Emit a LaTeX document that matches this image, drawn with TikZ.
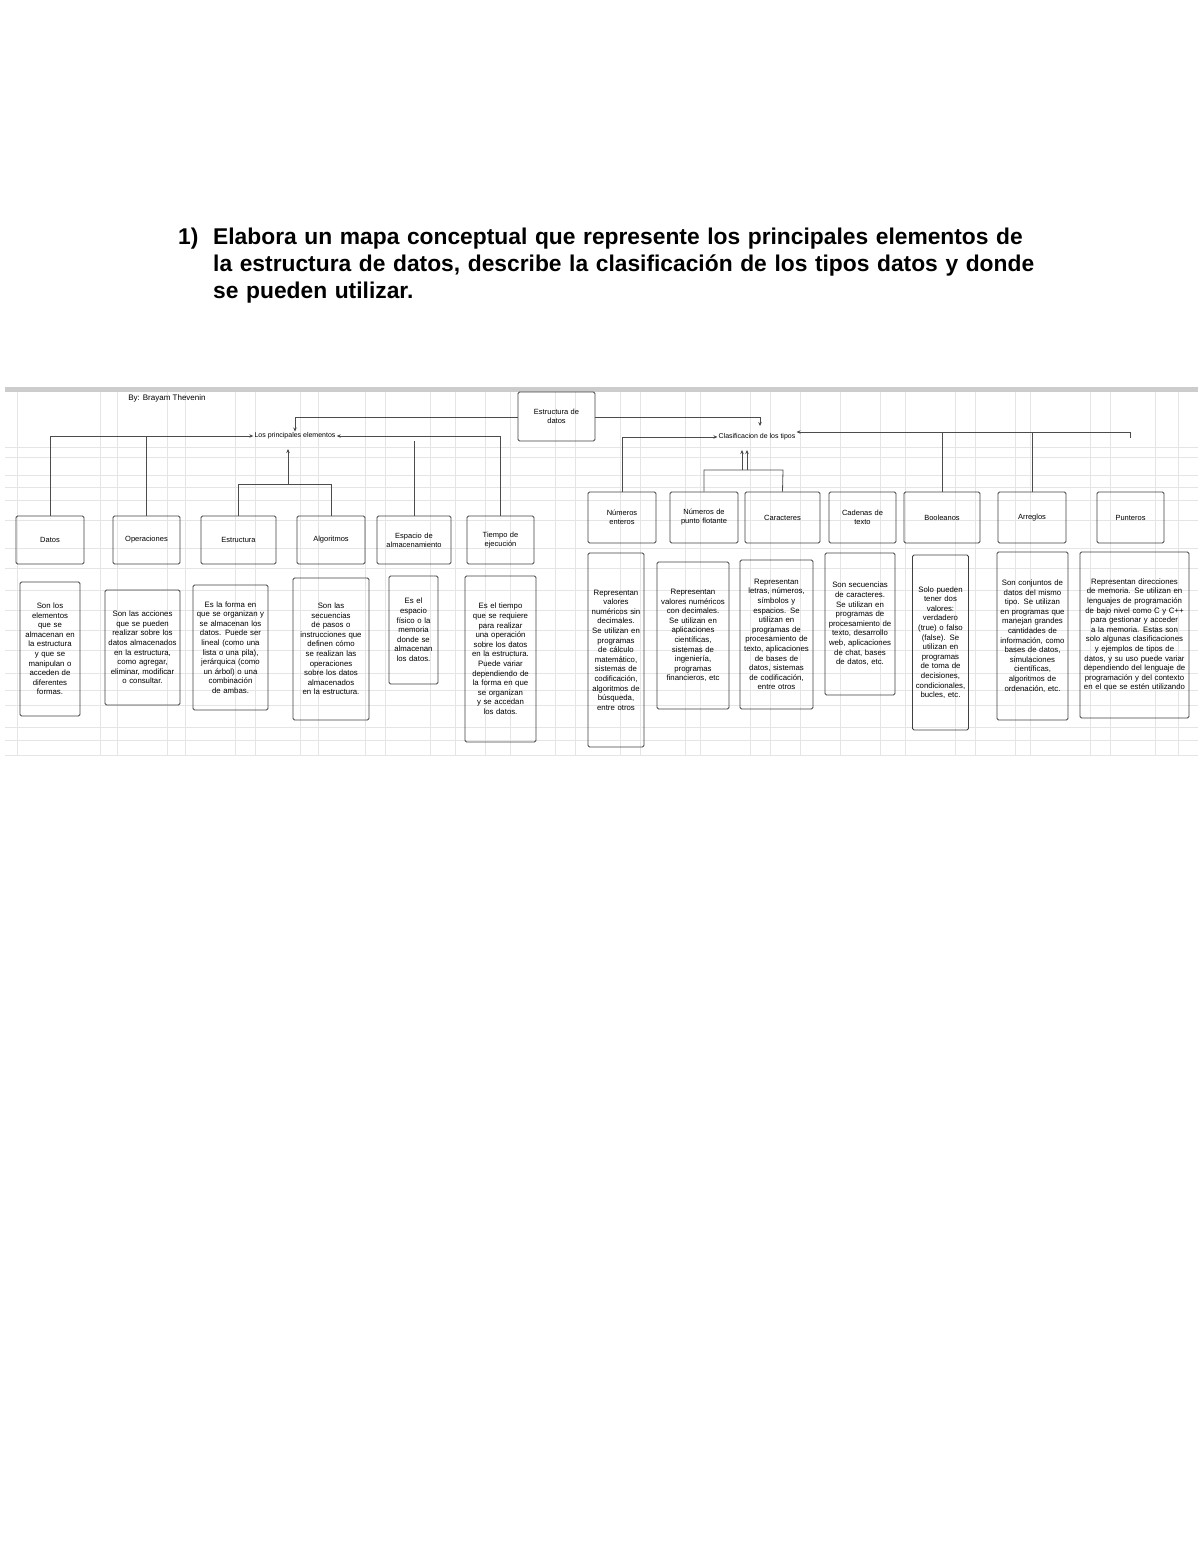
\documentclass[tikz,border=0pt]{standalone}
\usepackage{fontspec}
\setmainfont{Liberation Sans}
\usetikzlibrary{arrows.meta}
\begin{document}
\hyphenpenalty=10000 \exhyphenpenalty=10000 \emergencystretch=20pt
\begin{tikzpicture}[x=1pt,y=-1pt,
  box/.style={draw=black!75,line width=0.9pt,rounded corners=1.5pt,align=center,inner sep=1pt,font=\fontsize{7.5}{9}\selectfont},
  desc/.style={draw=black!75,line width=0.9pt,rounded corners=1.5pt,align=center,inner sep=1pt,font=\fontsize{7.8}{9.6}\selectfont},
  lbl/.style={font=\fontsize{7}{9}\selectfont,inner sep=1pt},
  con/.style={draw=black!70,line width=0.8pt},
  arr/.style={con,-{Stealth[length=4pt,width=3.5pt]}}]
\useasboundingbox (0,0) rectangle (1200,1553);
% title
\node[anchor=north west,font=\fontsize{22.8}{27}\bfseries\selectfont,inner sep=0pt] (num) at (178,228) {1)};
\node[anchor=north west,align=left,font=\fontsize{22.8}{27}\bfseries\selectfont,inner sep=0pt,text width=960pt] (title) at (213,228)
 {Elabora un mapa conceptual que represente los principales elementos de\\la estructura de datos, describe la clasificación de los tipos datos y donde\\se pueden utilizar.};
% grid
\fill[black!20] (5,387) rectangle (1198,392);
\foreach \y in {447,457,475,487,500,520,548,568,590,610,630,650,673,690,705,727,740,755}
  \draw[black!10,line width=0.6pt] (5,\y) -- (1198,\y);
\foreach \x in {17,100,117,167,185,235,255,300,318,365,385,430,455,485,510,555,575,620,640,685,700,750,770,800,840,880,905,955,975,1015,1030,1090,1110,1155,1178}
  \draw[black!10,line width=0.6pt] (\x,392) -- (\x,755);
\node[lbl,font=\fontsize{8}{9}\selectfont] (by) at (167,398) {By: Brayam Thevenin};
% top
\node[box,minimum width=77,minimum height=49,text width=70] (root) at (556.5,416.5) {Estructura de\\datos};
\node[lbl] (prin) at (295,436) {Los principales elementos};
\node[lbl] (clas) at (757,437) {Clasificacion de los tipos};
% left boxes
\node[box,minimum width=68,minimum height=48,text width=62] (datos) at (50,540) {Datos};
\node[box,minimum width=67,minimum height=48,text width=62] (oper) at (146.5,540) {Operaciones};
\node[box,minimum width=75,minimum height=48,text width=68] (estr) at (238.5,540) {Estructura};
\node[box,minimum width=68,minimum height=48,text width=62] (algo) at (331,540) {Algoritmos};
\node[box,minimum width=74,minimum height=48,text width=70] (esp) at (414,540) {Espacio de\\almacenamiento};
\node[box,minimum width=67,minimum height=48,text width=62] (tiem) at (500.5,540) {Tiempo de\\ejecución};
\node[desc,minimum width=60,minimum height=134,text width=54] (d1) at (50,649) {Son los elementos que se almacenan en la estructura y que se manipulan o acceden de diferentes formas.};
\node[desc,minimum width=75,minimum height=115,text width=70] (d2) at (142.5,647.5) {Son las acciones que se pueden realizar sobre los datos almacenados en la estructura, como agregar, eliminar, modificar o consultar.};
\node[desc,minimum width=75,minimum height=125,text width=70] (d3) at (230.5,647.5) {Es la forma en que se organizan y se almacenan los datos. Puede ser lineal (como una lista o una pila), jerárquica (como un árbol) o una combinación de ambas.};
\node[desc,minimum width=76,minimum height=142,text width=66] (d4) at (331,649) {Son las secuencias de pasos o instrucciones que definen cómo se realizan las operaciones sobre los datos almacenados en la estructura.};
\node[desc,minimum width=49,minimum height=108,text width=45] (d5) at (413.5,630) {Es el espacio físico o la memoria donde se almacenan los datos.};
\node[desc,minimum width=71,minimum height=166,text width=64] (d6) at (500.5,659) {Es el tiempo que se requiere para realizar una operación sobre los datos en la estructura. Puede variar dependiendo de la forma en que se organizan y se accedan los datos.};
% right boxes
\node[box,minimum width=68,minimum height=51,text width=62] (ent) at (622,517.5) {Números\\enteros};
\node[box,minimum width=68,minimum height=51,text width=66] (flo) at (704,517.5) {Números de\\punto flotante};
\node[box,minimum width=75,minimum height=51,text width=68] (car) at (782.5,517.5) {Caracteres};
\node[box,minimum width=67,minimum height=51,text width=62] (cad) at (862.5,517.5) {Cadenas de\\texto};
\node[box,minimum width=76,minimum height=51,text width=68] (boo) at (942,517.5) {Booleanos};
\node[box,minimum width=68,minimum height=51,text width=62] (arr) at (1032,517.5) {Arreglos};
\node[box,minimum width=67,minimum height=51,text width=62] (pun) at (1130.5,517.5) {Punteros};
\node[desc,minimum width=56,minimum height=194,text width=54] (e1) at (616,650) {Representan valores numéricos sin decimales. Se utilizan en programas de cálculo matemático, sistemas de codificación, algoritmos de búsqueda, entre otros};
\node[desc,minimum width=72,minimum height=147,text width=68] (e2) at (693,635.5) {Representan valores numéricos con decimales. Se utilizan en aplicaciones científicas, sistemas de ingeniería, programas financieros, etc};
\node[desc,minimum width=73,minimum height=149,text width=68] (e3) at (776.5,634.5) {Representan letras, números, símbolos y espacios. Se utilizan en programas de procesamiento de texto, aplicaciones de bases de datos, sistemas de codificación, entre otros};
\node[desc,minimum width=70,minimum height=142,text width=68] (e4) at (860,624) {Son secuencias de caracteres. Se utilizan en programas de procesamiento de texto, desarrollo web, aplicaciones de chat, bases de datos, etc.};
\node[desc,minimum width=55,minimum height=175,text width=54] (e5) at (940.5,642.5) {Solo pueden tener dos valores: verdadero (true) o falso (false). Se utilizan en programas de toma de decisiones, condicionales, bucles, etc.};
\node[desc,minimum width=71,minimum height=168,text width=68] (e6) at (1032.5,636) {Son conjuntos de datos del mismo tipo. Se utilizan en programas que manejan grandes cantidades de información, como bases de datos, simulaciones científicas, algoritmos de ordenación, etc.};
\node[desc,minimum width=109,minimum height=166,text width=106] (e7) at (1134.5,635) {Representan direcciones de memoria. Se utilizan en lenguajes de programación de bajo nivel como C y C++ para gestionar y acceder a la memoria. Estas son solo algunas clasificaciones y ejemplos de tipos de datos, y su uso puede variar dependiendo del lenguaje de programación y del contexto en el que se estén utilizando};
% connectors left
\coordinate (pa) at (295,417);
\draw[arr] (root.west |- pa) -- (pa) -- (prin.north -| pa);
\draw[con] (datos.north) |- (147,436);
\draw[arr] (oper.north) |- (prin.west);
\draw[con] (estr.north) |- (331,484) -- (algo.north);
\draw[arr] (288,484) -- (288,449);
\draw[arr] (tiem.north) |- (prin.east);
\draw[con] (esp.north) -- (414,441);
% connectors right
\coordinate (ca) at (760,417);
\draw[arr] (root.east |- ca) -- (ca) -- (760,426);
\draw[arr] (ent.north) |- (clas.west);
\draw[con] (flo.north) |- (783,470) -- (car.north);
\draw[arr] (742,470) -- (742,450);
\draw[arr] (747,470) -- (747,450);
\draw[con] (boo.north) -- (942,432);
\draw[con] (arr.north) -- (1032,432);
\draw[arr] (1130,438) -- (1130,432) -- (clas.east |- 0,432);
\end{tikzpicture}
\end{document}
